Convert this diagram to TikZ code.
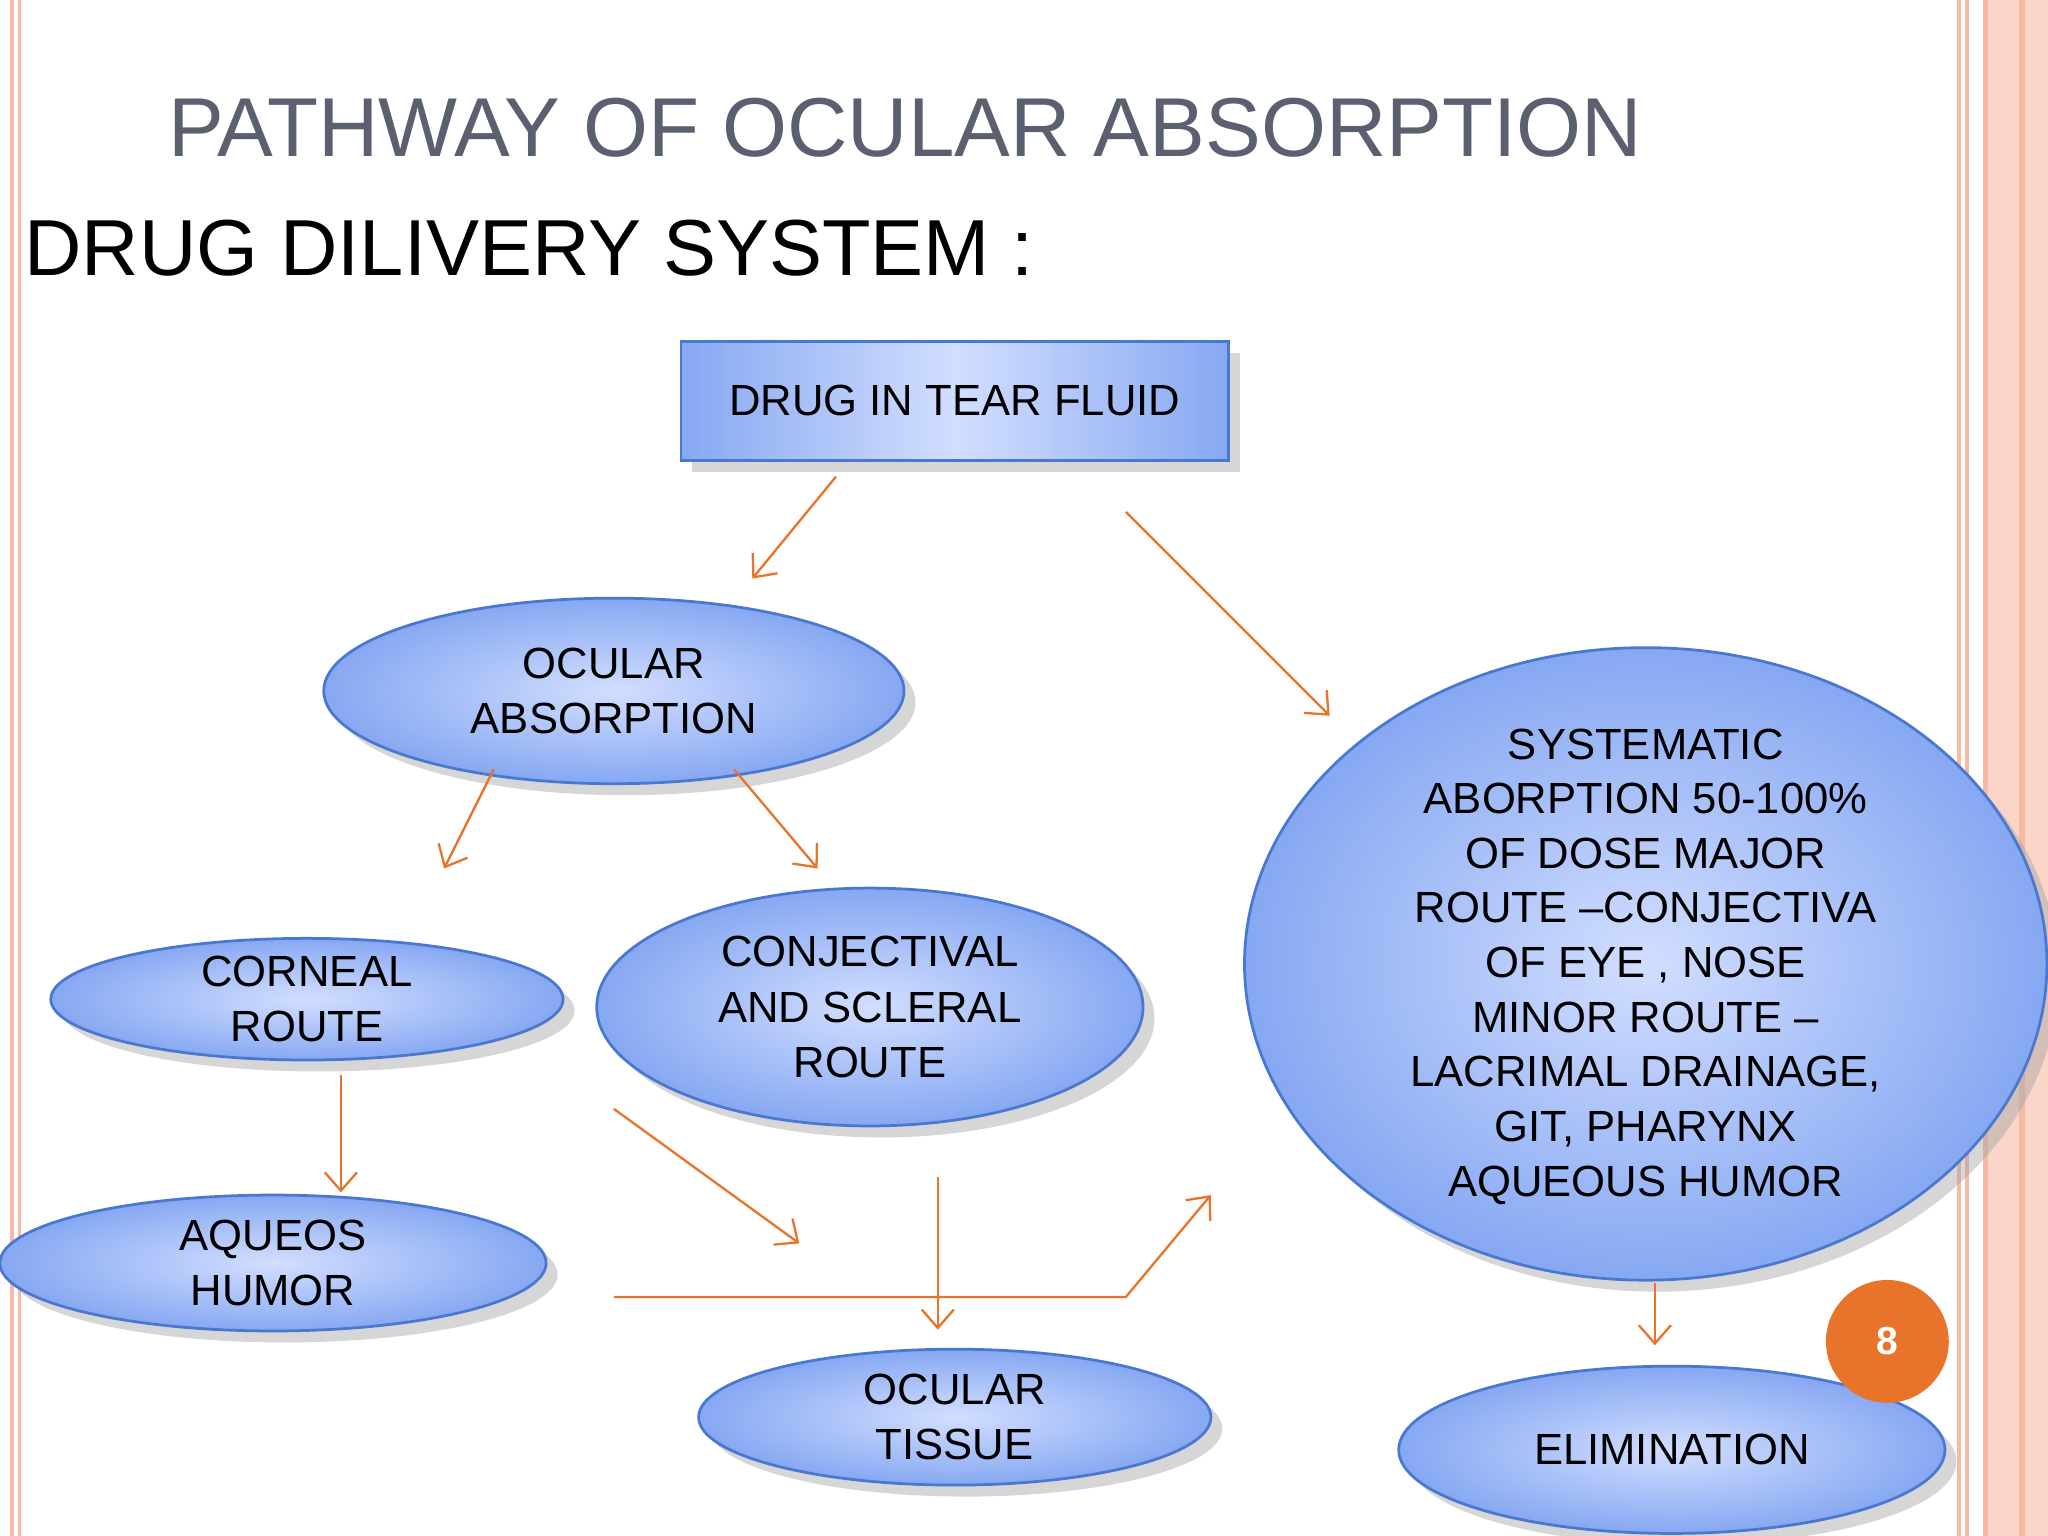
\documentclass[tikz,border=0pt]{standalone}
\usepackage{fontspec}
\setmainfont{Liberation Sans}
\usetikzlibrary{shadows,arrows.meta,shapes.geometric}
\definecolor{bord}{HTML}{4A78D0}
\definecolor{inB}{HTML}{D2DEFF}
\definecolor{outB}{HTML}{86A8F2}
\definecolor{arr}{HTML}{E8732A}
\definecolor{salmon}{HTML}{F6B9A4}
\definecolor{ttl}{HTML}{5A6070}
\tikzset{
  bub/.style={ellipse, draw=bord, line width=0.6pt, inner color=inB, outer color=outB,
     drop shadow={shadow xshift=2.5pt,shadow yshift=-2.5pt,fill=black!35,opacity=0.45},
     align=center, font=\fontsize{9.5}{12}\selectfont, inner sep=0pt},
  arw/.style={draw=arr, line width=0.5pt, -{Straight Barb[length=4pt,width=7pt]}}
}
\begin{document}
\begin{tikzpicture}[x=0.01cm,y=-0.01cm]
\useasboundingbox (0,0) rectangle (1568,1176);
\fill[white] (0,0) rectangle (1568,1176);
% borders
\draw[salmon, line width=0.8pt] (9,0)--(9,1176) (15,0)--(15,1176);
\draw[salmon, line width=0.8pt] (1500,0)--(1500,1176) (1506,0)--(1506,1176);
\fill[salmon!60] (1518,0) rectangle (1568,1176);
\draw[salmon, line width=1.2pt] (1520,0)--(1520,1176) (1548,0)--(1548,1176);
% titles
\node[text=ttl, font=\fontsize{18.2}{22}\selectfont] (t) at (693,98) {PATHWAY OF OCULAR ABSORPTION};
\node[anchor=west, font=\fontsize{17.3}{22}\selectfont, inner sep=0pt] (s) at (18,190) {DRUG DILIVERY SYSTEM :};
% boxes
\node[draw=bord, line width=0.6pt, left color=outB, right color=outB, middle color=inB,
  drop shadow={shadow xshift=2.5pt,shadow yshift=-2.5pt,fill=black!35,opacity=0.45},
  font=\fontsize{9.5}{12}\selectfont,
  minimum width=4.19cm, minimum height=0.91cm] (dt) at (731,307) {DRUG IN TEAR FLUID};
\node[bub, minimum width=4.44cm, minimum height=1.42cm] (oa) at (470,529) {OCULAR\\ABSORPTION};
\node[bub, minimum width=3.92cm, minimum height=0.9cm] (cr) at (235,765) {CORNEAL\\ROUTE};
\node[bub, minimum width=4.18cm, minimum height=1.82cm] (cs) at (666,771) {CONJECTIVAL\\AND SCLERAL\\ROUTE};
\node[bub, minimum width=4.18cm, minimum height=1.04cm] (ah) at (209,967) {AQUEOS\\HUMOR};
\node[bub, minimum width=3.92cm, minimum height=1.04cm] (ot) at (731,1085) {OCULAR\\TISSUE};
\node[bub, minimum width=6.14cm, minimum height=4.84cm] (sa) at (1260,738) {};
\node[align=center, font=\fontsize{9.5}{11.9}\selectfont, inner sep=0pt] (sat) at (1260,740) {SYSTEMATIC\\ABORPTION 50-100\%\\OF DOSE MAJOR\\ROUTE --CONJECTIVA\\OF EYE , NOSE\\MINOR ROUTE --\\LACRIMAL DRAINAGE,\\GIT, PHARYNX\\AQUEOUS HUMOR};
\node[bub, minimum width=4.18cm, minimum height=1.28cm] (el) at (1280,1110) {ELIMINATION};
\node[circle, fill=arr, minimum size=0.94cm, text=white, font=\fontsize{8.5}{10}\bfseries] (pg) at (1445,1027) {8};
% arrows
\coordinate (a1) at (640,365); \coordinate (b1) at (576,443);
\coordinate (a2) at (862,392); \coordinate (b2) at (1018,548);
\coordinate (a3) at (378,589); \coordinate (b3) at (340,665);
\coordinate (a4) at (562,589); \coordinate (b4) at (626,665);
\coordinate (a5) at (261,823); \coordinate (b5) at (261,913);
\coordinate (a6) at (470,849); \coordinate (b6) at (612,952);
\coordinate (a7) at (718,901); \coordinate (b7) at (718,1018);
\coordinate (a8) at (470,993); \coordinate (m8) at (862,993); \coordinate (b8) at (927,915);
\coordinate (a9) at (1267,982); \coordinate (b9) at (1267,1030);
\draw[arw] (a1)--(b1);
\draw[arw] (a2)--(b2);
\draw[arw] (a3)--(b3);
\draw[arw] (a4)--(b4);
\draw[arw] (a5)--(b5);
\draw[arw] (a6)--(b6);
\draw[arw] (a7)--(b7);
\draw[arw] (a8)--(m8)--(b8);
\draw[arw] (a9)--(b9);
\end{tikzpicture}
\end{document}
